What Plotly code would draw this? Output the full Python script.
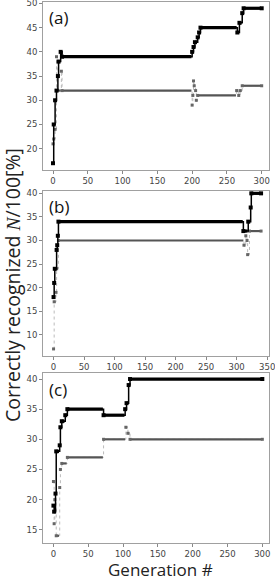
import plotly.graph_objects as go

# ---- data (generation breakpoints and values; values hold until next breakpoint) ----
a_gen_best = [0, 1, 3, 5, 7, 8, 11, 13, 200, 202, 204, 208, 210, 212, 265, 268, 272, 274, 300]
a_best = [17, 25, 30, 32, 35, 38, 40, 39, 40, 41, 42, 43, 44, 45, 44, 46, 48, 49, 49]
a_gen_other = [0, 1, 3, 5, 6, 12, 13, 200, 201, 202, 203, 205, 206, 208, 264, 267, 269, 272, 300]
a_other = [21, 22, 24, 39, 32, 36, 32, 29, 31, 34, 33, 32, 30, 31, 32, 31, 32, 33, 33]

b_gen_best = [0, 1, 2, 5, 6, 7, 8, 311, 319, 323, 324, 340]
b_best = [18, 21, 24, 28, 29, 31, 34, 32, 34, 37, 40, 40]
b_gen_other = [0, 1, 4, 5, 8, 312, 315, 317, 318, 321, 340]
b_other = [7, 17, 19, 24, 30, 29, 31, 30, 27, 32, 32]

c_gen_best = [0, 1, 3, 4, 9, 10, 12, 17, 20, 72, 103, 105, 108, 110, 300]
c_best = [19, 18, 21, 28, 29, 32, 33, 34, 35, 34, 35, 36, 39, 40, 40]
c_gen_other = [0, 1, 2, 4, 9, 10, 12, 20, 72, 104, 107, 110, 300]
c_other = [23, 16, 20, 14, 22, 25, 26, 27, 30, 32, 31, 30, 30]

panel_labels = ["(a)", "(b)", "(c)"]
x_ticks = [[0, 50, 100, 150, 200, 250, 300],
           [0, 50, 100, 150, 200, 250, 300, 350],
           [0, 50, 100, 150, 200, 250, 300]]
y_ticks = [[20, 25, 30, 35, 40, 45, 50],
           [10, 15, 20, 25, 30, 35, 40],
           [15, 20, 25, 30, 35, 40]]

W, H = 275, 579
x_dom = [43 / W, 269 / W]
y_doms = [[1 - 170 / H, 1 - 2 / H], [1 - 356 / H, 1 - 191 / H], [1 - 543 / H, 1 - 373 / H]]
x_ranges = [[-14.4, 310.5], [-17.3, 353], [-15, 309.6]]
y_ranges = [[15.6, 50.3], [5.5, 40.5], [12.8, 41.0]]

panels = [(a_gen_best, a_best, a_gen_other, a_other),
          (b_gen_best, b_best, b_gen_other, b_other),
          (c_gen_best, c_best, c_gen_other, c_other)]


def flats(g, v):
    xs, ys = [], []
    for i in range(len(g) - 1):
        xs += [g[i], max(g[i], g[i + 1] - 1), None]
        ys += [v[i], v[i], None]
    return xs, ys


fig = go.Figure()
for k, (gb, vb, go_, vo) in enumerate(panels):
    xa = "x" if k == 0 else f"x{k+1}"
    ya = "y" if k == 0 else f"y{k+1}"
    fig.add_trace(go.Scatter(x=go_, y=vo, mode="lines", line=dict(shape="hv", color="#bbbbbb", width=1, dash="dot"),
                             xaxis=xa, yaxis=ya, showlegend=False, hoverinfo="skip"))
    fx, fy = flats(go_, vo)
    fig.add_trace(go.Scatter(x=fx, y=fy, mode="lines", line=dict(color="#555555", width=2.2),
                             xaxis=xa, yaxis=ya, showlegend=False, hoverinfo="skip"))
    fig.add_trace(go.Scatter(x=go_, y=vo, mode="markers", marker=dict(size=3, color="#666666", symbol="square"),
                             xaxis=xa, yaxis=ya, showlegend=False))
    fig.add_trace(go.Scatter(x=gb, y=vb, mode="lines", line=dict(shape="hv", color="black", width=1.5),
                             xaxis=xa, yaxis=ya, showlegend=False, hoverinfo="skip"))
    fx, fy = flats(gb, vb)
    fig.add_trace(go.Scatter(x=fx, y=fy, mode="lines", line=dict(color="black", width=3.2),
                             xaxis=xa, yaxis=ya, showlegend=False, hoverinfo="skip"))
    fig.add_trace(go.Scatter(x=gb, y=vb, mode="markers", marker=dict(size=4, color="black", symbol="square"),
                             xaxis=xa, yaxis=ya, showlegend=False))

axis_common = dict(showgrid=False, zeroline=False, showline=True, mirror=True, linecolor="#a0a0a0", linewidth=1,
                   ticks="outside", ticklen=3, tickcolor="#888888", automargin=False,
                   ticklabeloverflow="allow",
                   tickfont=dict(family="DejaVu Sans", size=8.5, color="#444444"))
layout = dict(template="none", width=W, height=H, margin=dict(l=0, r=0, t=0, b=0, pad=0),
              plot_bgcolor="white", paper_bgcolor="white", showlegend=False)
for k in range(3):
    xn = "xaxis" if k == 0 else f"xaxis{k+1}"
    yn = "yaxis" if k == 0 else f"yaxis{k+1}"
    ya = "y" if k == 0 else f"y{k+1}"
    xa = "x" if k == 0 else f"x{k+1}"
    layout[xn] = dict(domain=x_dom, range=x_ranges[k], tickvals=x_ticks[k], anchor=ya, **axis_common)
    layout[yn] = dict(domain=y_doms[k], range=y_ranges[k], tickvals=y_ticks[k], anchor=xa, **axis_common)
fig.update_layout(**layout)

label_y = [1 - 17 / H, 1 - 207 / H, 1 - 389 / H]
for k in range(3):
    fig.add_annotation(x=47 / W, y=label_y[k], xref="paper", yref="paper", text=panel_labels[k],
                       showarrow=False, xanchor="left", yanchor="middle",
                       font=dict(family="Open Sans", size=17, color="#111111"))

fig.add_annotation(x=160 / W, y=1 - 569 / H, xref="paper", yref="paper", text="Generation #",
                   showarrow=False, xanchor="center", yanchor="middle",
                   font=dict(family="Open Sans", size=17, color="#222222"))
fig.add_annotation(x=12 / W, y=1 - 285 / H, xref="paper", yref="paper",
                   text="Correctly recognized <span style='font-family:Liberation Serif'><i>N</i></span>/100[%]",
                   showarrow=False, textangle=-90, xanchor="center", yanchor="middle",
                   font=dict(family="Open Sans", size=19.5, color="#222222"))

fig.write_html("out.html", config={"displayModeBar": False},
               post_script="document.body.style.margin='0';document.body.style.overflow='hidden';")
